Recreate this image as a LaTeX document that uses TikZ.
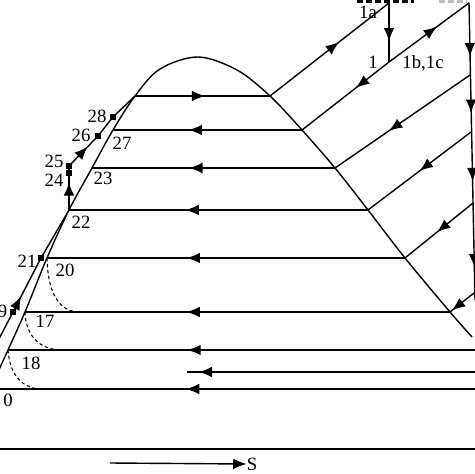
\documentclass[tikz,border=0pt]{standalone}
\usepackage{fontspec}
\setmainfont{Liberation Serif}
\usetikzlibrary{arrows.meta, decorations.markings, positioning, calc}

\begin{document}
\begin{tikzpicture}[x=0.3mm, y=-0.3mm,
        every node/.style={font=\fontsize{16}{18}\selectfont, inner sep=0pt},
        line/.style={line width=1.2pt},
        pt/.style={fill, rectangle, minimum size=1.7mm, inner sep=0pt},
        flow/.style={postaction={decorate, decoration={markings,
            mark=at position #1 with {\arrow{Latex[length=4mm, width=3.2mm]}}}}},
        aux/.style={line width=0.9pt, dash pattern=on 1mm off 0.8mm}
    ]
    \useasboundingbox (0,0) rectangle (474,474);

    % points on the saturation curve
    \coordinate (s0) at (-10,389);
    \coordinate (s18) at (8,350);
    \coordinate (s17) at (25,312);
    \coordinate (s20) at (47,258);
    \coordinate (s22) at (69,210);
    \coordinate (s23) at (92,168);
    \coordinate (s27) at (113,130);
    \coordinate (sc) at (135,96);
    \coordinate (crit) at (198,57);
    \coordinate (r1) at (270,96);
    \coordinate (r2) at (302,130);
    \coordinate (r3) at (335,168);
    \coordinate (r4) at (368,210);
    \coordinate (r5) at (405,258);
    \coordinate (r6) at (450,312);

    % right hand side
    \coordinate (p1a) at (389,3);
    \coordinate (p1) at (389,62);
    \coordinate (tr) at (469,3);
    \coordinate (v1) at (470,75);
    \coordinate (v2) at (471,132);
    \coordinate (v3) at (473,203);
    \coordinate (v4) at (474,293);
    \coordinate (vb) at (475,300);
    \coordinate (e350) at (480,350);
    \coordinate (e372) at (480,372);
    \coordinate (b372) at (187,372);
    \coordinate (e389) at (480,389);
    \coordinate (a0) at (-12,360);

    \draw[line] plot[smooth, tension=0.55] coordinates {(-14,398) (s18) (s17) (s20) (s22) (s23) (s27) (sc)
        (160,69) (crit) (237,70) (r1) (r2) (r3) (r4) (r5) (r6) (472,337)};

    \node[pt] (m19) at (13,312) {};
    \node[pt] (m21) at (41,258) {};
    \node[pt] (m24) at (69,173) {};
    \node[pt] (m25) at (69,166) {};
    \node[pt] (m26) at (98,136) {};
    \node[pt] (m28) at (113,117) {};

    \draw[line, flow=0.42] (a0) -- (m19.center) -- (m21.center) -- (s22);
    \draw[line, flow=0.75] (s22) -- (m24.center);
    \draw[line] (m24.center) -- (m25.center);
    \draw[line, flow=0.28] (m25.center) -- (m26.center) -- (m28.center) -- (sc);

    \draw[line, flow=0.52] (sc) -- (r1);
    \draw[line, flow=0.6] (r2) -- (s27);
    \draw[line, flow=0.6] (r3) -- (s23);
    \draw[line, flow=0.61] (r4) -- (s22);
    \draw[line, flow=0.61] (r5) -- (s20);
    \draw[line, flow=0.62] (r6) -- (s17);
    \draw[line, flow=0.62] (e350) -- (s18);
    \draw[line, flow=0.96] (e372) -- (b372);
    \draw[line, flow=0.6] (e389) -- (s0);

    \draw[line, flow=0.58] (r1) -- (p1a);
    \draw[line, flow=0.65] (p1a) -- (p1);
    \draw[line, flow=0.38] (p1) -- (r2);
    \draw[line, flow=0.6] (p1) -- (tr);
    \draw[line, flow=0.6] (v1) -- (r3);
    \draw[line, flow=0.5] (v2) -- (r4);
    \draw[line, flow=0.53] (v3) -- (r5);
    \draw[line, flow=0.92] (v4) -- (r6);
    \draw[line, flow=0.18, flow=0.37, flow=0.6, flow=0.89] (tr) -- (vb);

    \draw[line width=1.6mm, dash pattern=on 1.8mm off 0.9mm] (357,0) -- (414,0);
    \draw[line width=1.6mm, gray!50, dash pattern=on 1.8mm off 0.9mm] (439,0) -- (467,0);

    % subcooling
    \coordinate (c20) at (80,312);
    \coordinate (c17) at (62,350);
    \coordinate (c18) at (42,389);
    \draw[aux] (s20) .. controls (48,298) and (62,312) .. (c20);
    \draw[aux] (s17) .. controls (26,340) and (44,350) .. (c17);
    \draw[aux] (s18) .. controls (10,378) and (25,389) .. (c18);

    \node (l28) at (97,116) {28};
    \node (l26) at (81,135) {26};
    \node (l27) at (122,143) {27};
    \node (l25) at (54,161) {25};
    \node (l24) at (54,180) {24};
    \node (l23) at (103,178) {23};
    \node (l22) at (81,222) {22};
    \node (l21) at (27,261) {21};
    \node (l20) at (65,270) {20};
    \node (l19) at (-2,311) {19};
    \node (l17) at (45,321) {17};
    \node (l18) at (31,363) {18};
    \node (l0) at (8,400) {0};
    \node (l1a) at (368,12) {1a};
    \node (l1) at (373,62) {1};
    \node (l1b) at (423,63) {1b,1c};

    \draw[line] (-5,449) -- (480,449);
    \coordinate (sa) at (110,463);
    \node (S) at (252,464) {S};
    \draw[line, -{Latex[length=4mm, width=3.2mm]}] (sa) -- (S.west);
\end{tikzpicture}
\end{document}
